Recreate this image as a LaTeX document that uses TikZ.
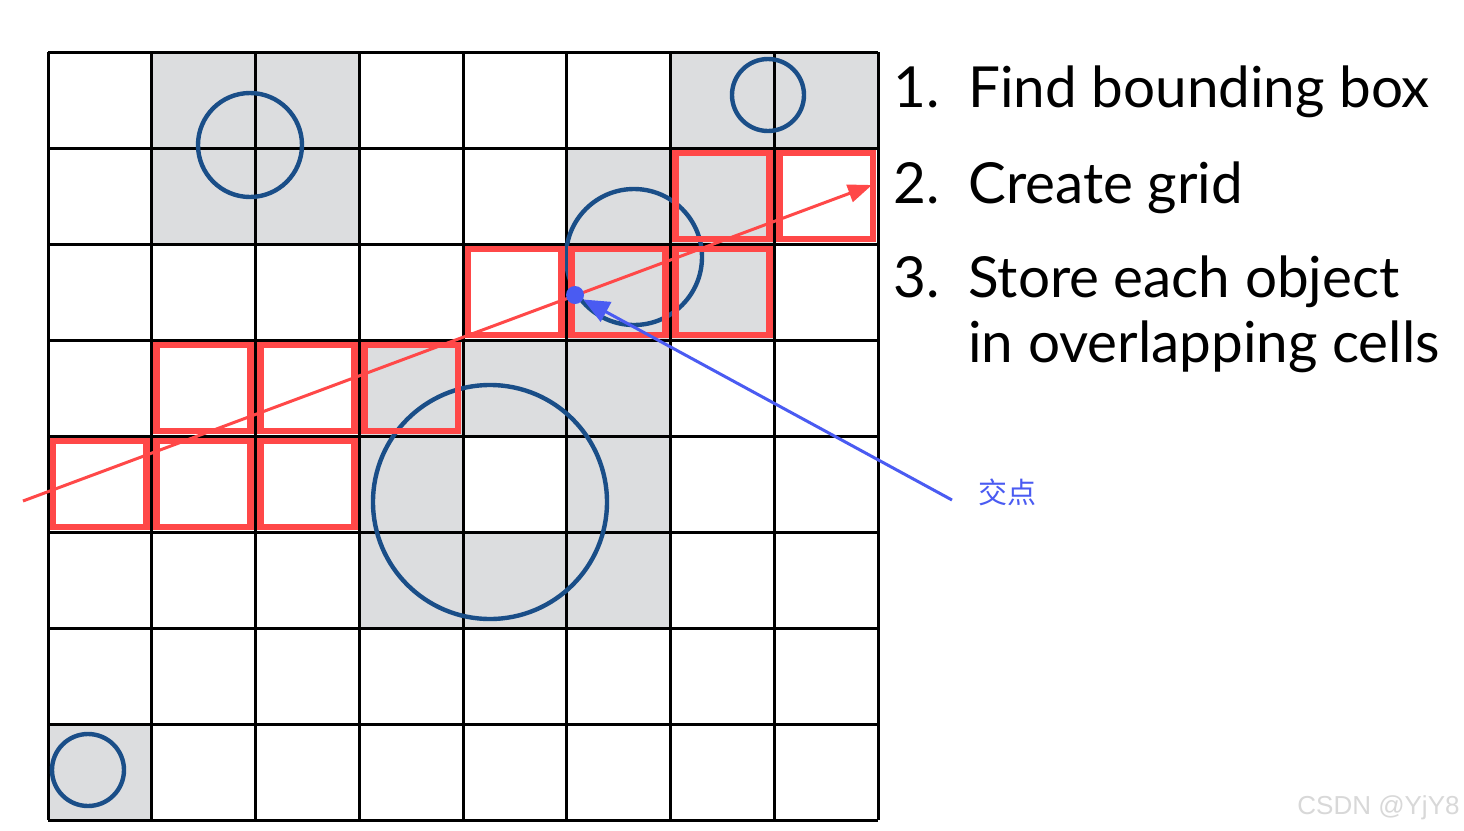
\documentclass[tikz,border=0pt]{standalone}
\usepackage{fontspec}
\setmainfont{Lato}
\newfontfamily\cjk{Noto Sans CJK SC}
\newfontfamily\wmfont{Liberation Sans}
\usetikzlibrary{arrows.meta}
\definecolor{cellgray}{HTML}{DCDDDF}
\definecolor{boxred}{HTML}{FF4848}
\definecolor{circblue}{HTML}{1A4E88}
\definecolor{ptblue}{HTML}{4A5BF2}
\definecolor{wmgray}{HTML}{D8D8D8}
\tikzset{
  gridline/.style={line width=1.5pt, black},
  redbox/.style={draw=boxred, line width=3.4pt},
  obj/.style={draw=circblue, line width=2.2pt},
  steptext/.style={anchor=base west, inner sep=0pt, font=\fontsize{28.3}{32}\selectfont},
}
\begin{document}
\begin{tikzpicture}[x=0.5pt,y=-0.5pt]
\useasboundingbox (0,0) rectangle (1464,831);
\fill[white] (0,0) rectangle (1464,831);
% gray cells
\foreach \r/\c in {0/1,0/2,0/6,0/7,1/1,1/2,1/5,1/6,2/5,2/6,3/3,3/4,3/5,4/3,4/5,5/3,5/4,5/5,7/0}
  \fill[cellgray] ({48+103.75*\c},{52+96*\r}) rectangle ++(103.75,96);
% grid
\foreach \i in {0,...,8} {
  \draw[gridline] ({48+103.75*\i},52) -- ({48+103.75*\i},820);
  \draw[gridline] (48,{52+96*\i}) -- (878,{52+96*\i});
}
% objects
\draw[obj] (250,145) circle (52);
\draw[obj] (768,95) circle (36);
\draw[obj] (634,257) circle (68);
\draw[obj] (490,502) circle (117);
\draw[obj] (88,770) circle (36);
% red cells
\foreach \r/\c in {1/6,1/7,2/4,2/5,2/6,3/1,3/2,3/3,4/0,4/1,4/2}
  \draw[redbox] ({48+103.75*\c+5},{52+96*\r+5}) rectangle ++(93.75,86);
% ray
\coordinate (rs) at (23,501);
\coordinate (re) at (872,185);
\draw[boxred, line width=1.5pt, -{Triangle[length=12pt,width=9pt]}] (rs) -- (re);
% intersection
\node[circle, fill=ptblue, minimum size=9pt, inner sep=0pt] (hit) at (575,295) {};
\node[text=ptblue, font=\cjk\fontsize{14.5}{16}\selectfont, inner sep=0pt] (lbl) at (1007,492) {交点};
\coordinate (ls) at (952,500);
\draw[ptblue, line width=1.5pt, -{Triangle[length=13pt,width=11pt]}] (ls) -- (hit);
% steps
\node[steptext] (n1) at (893,107) {1.};
\node[steptext] (t1) at (968,107) {Find bounding box};
\node[steptext] (n2) at (893,203) {2.};
\node[steptext] (t2) at (968,203) {Create grid};
\node[steptext] (n3) at (893,297) {3.};
\node[steptext] (t3) at (968,297) {Store each object};
\node[steptext] (t4) at (968,362) {in overlapping cells};
% watermark
\node[anchor=base east, inner sep=0pt, text=wmgray, font=\wmfont\fontsize{13}{15}\selectfont] (wm) at (1460,814) {CSDN @YjY8};
\end{tikzpicture}
\end{document}
